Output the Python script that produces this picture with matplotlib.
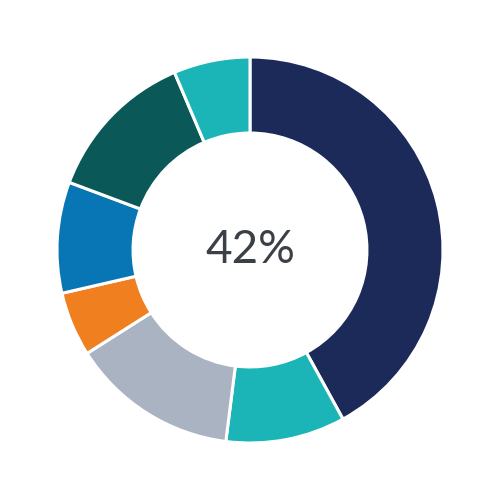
import matplotlib
matplotlib.use("Agg")
import matplotlib.pyplot as plt

# Segment shares (clockwise from 12 o'clock)
labels = ["Navy", "Teal", "Gray", "Orange", "Blue", "Dark green", "Light teal"]
shares = [42, 10.0, 14.0, 5.4, 9.3, 12.9, 6.4]
colors = ["#1c2a5a", "#1bb5b7", "#a9b3c1", "#f07f20", "#0876b5", "#0a5858", "#1bb5b7"]
center_label = "42%"

fig = plt.figure(figsize=(5, 5), dpi=100)
fig.patch.set_facecolor("white")
ax = fig.add_axes([0, 0, 1, 1])

ax.pie(shares, colors=colors, startangle=90, counterclock=False,
       radius=1.0,
       wedgeprops=dict(width=0.394, edgecolor="white", linewidth=2.2))

ax.text(0, 0.0, center_label, ha="center", va="center",
        fontsize=33, color="#3b4047", family="Lato", fontweight="normal")

lim = 250 / 193
ax.set_xlim(-lim, lim)
ax.set_ylim(-lim, lim)
ax.set_aspect("equal")
ax.axis("off")

plt.savefig("out.png", dpi=100, facecolor=fig.get_facecolor())
